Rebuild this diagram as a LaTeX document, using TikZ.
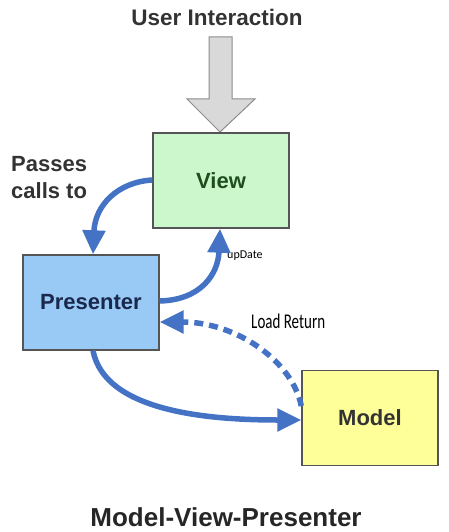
\documentclass[tikz,border=0pt]{standalone}
\usepackage{fontspec}
\setmainfont{Liberation Sans}
\newfontfamily\calib{Carlito}
\usetikzlibrary{arrows.meta}
\definecolor{arrowblue}{RGB}{68,114,196}
\definecolor{viewfill}{RGB}{204,247,204}
\definecolor{presfill}{RGB}{153,201,245}
\definecolor{modelfill}{RGB}{255,255,153}
\definecolor{boxline}{RGB}{85,85,85}
\definecolor{grayfill}{RGB}{217,217,217}
\definecolor{grayline}{RGB}{140,140,140}
\tikzset{
  box/.style={draw=boxline, line width=1.4pt, minimum width=136pt, minimum height=95pt, inner sep=0pt, font=\bfseries\fontsize{22}{26}\selectfont},
  flow/.style={draw=arrowblue, line width=5.5pt, -{Triangle[width=22pt,length=24pt]}},
  lbl/.style={font=\bfseries\fontsize{22}{27}\selectfont, text=black!80, align=left}
}
\begin{document}
\begin{tikzpicture}[x=1pt,y=-1pt]
\useasboundingbox (0,0) rectangle (448,532);
\node[font=\bfseries\fontsize{22.5}{26}\selectfont, text=black!80] (ui) at (217,17) {User Interaction};
\draw[fill=grayfill, draw=grayline, line width=1pt] (209,37) -- (232,37) -- (232,99) -- (255,99) -- (220,132) -- (187,99) -- (209,99) -- cycle;
\node[box, fill=viewfill, text={rgb,255:red,30;green,77;blue,30}] (view) at (221,180.5) {View};
\node[box, fill=presfill, text={rgb,255:red,25;green,40;blue,75}] (pres) at (91,302.5) {Presenter};
\node[box, fill=modelfill, text=black!80] (model) at (370,418) {Model};
\node[lbl, anchor=west, inner sep=0pt] (pass) at (11,178) {Passes\\calls to};
\node[font=\calib\fontsize{12}{14}\selectfont, anchor=west, inner sep=0pt] (upd) at (227,256) {upDate};
\node[font=\calib\fontsize{15}{19}\selectfont, anchor=west, inner sep=0pt] (load) at (251,321) {\scalebox{1}[1.4]{Load Return}};
\node[font=\bfseries\fontsize{26}{30}\selectfont, text=black!85] (title) at (226,517) {Model-View-Presenter};
\draw[flow] (view.west |- 0,180) .. controls (118,182) and (95,205) .. (pres.north -| 93,0);
\draw[flow] (pres.east |- 0,301) .. controls (200,300) and (218,275) .. (view.south -| 220,0);
\draw[flow] (pres.south -| 93,0) .. controls (105,412) and (210,420) .. (model.west |- 0,420);
\draw[flow, dashed, dash pattern=on 9pt off 6pt] (model.west |- 0,406) .. controls (292,360) and (235,322) .. (pres.east |- 0,322);
\end{tikzpicture}
\end{document}
